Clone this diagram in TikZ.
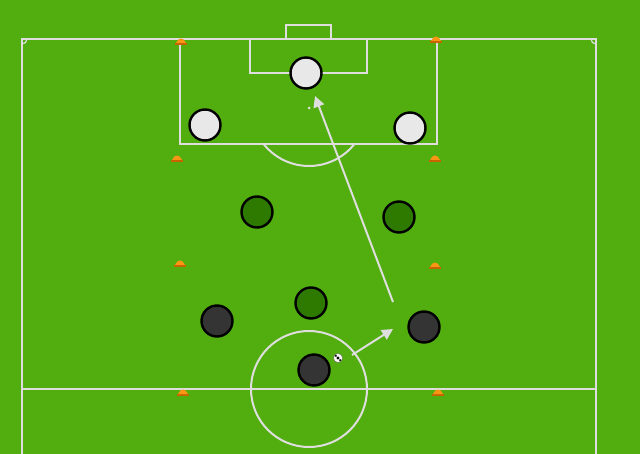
\documentclass[tikz,border=0pt]{standalone}
\usetikzlibrary{arrows.meta}
\definecolor{pitch}{RGB}{82,174,14}
\definecolor{chalk}{RGB}{222,222,222}
\definecolor{shirtwhite}{RGB}{232,232,232}
\definecolor{shirtgreen}{RGB}{46,122,0}
\definecolor{shirtdark}{RGB}{52,52,52}
\definecolor{conetop}{RGB}{250,150,20}
\definecolor{conebase}{RGB}{200,100,0}
\tikzset {
  % field markings
  line/.style = {
    draw = chalk,
    line width = 2pt
  },
  thinline/.style = {
    draw = chalk,
    line width = 1.2pt
  },
  % pass or run
  pass/.style = {
    draw = chalk,
    line width = 2pt,
    -{Triangle[length=11pt,width=11pt]}
  }
}
\tikzset {
  player/.style = {
    draw = black,
    circle,
    line width = 2.4pt,
    minimum size = 31pt,
    inner sep = 0
  },
  % team in white
  home/.style = {
    player,
    fill = shirtwhite
  },
  % green team
  mid/.style = {
    player,
    fill = shirtgreen
  },
  % dark team
  away/.style = {
    player,
    fill = shirtdark
  },
  % training cone
  cone/.pic = {
    \fill[conebase] (-6,0) rectangle (6,-2);
    \fill[conetop] (-5,-2) .. controls (-2.5,-8) and (2.5,-8) .. (5,-2) -- cycle;
  }
}

\begin{document}
\begin{tikzpicture}[x=1pt,y=-1pt]
    \fill[pitch] (0,0) rectangle (640,454);
    \useasboundingbox (0,0) rectangle (640,454);

    % pitch lines
    \draw[line] (22,454) -- (22,39) -- (596,39) -- (596,454);
    \draw[line] (22,389) -- (596,389);
    \draw[line] (180,39) -- (180,144) -- (437,144) -- (437,39);
    \draw[line] (250,39) -- (250,73) -- (367,73) -- (367,39);
    \draw[thinline] (286,39) -- (286,25) -- (331,25) -- (331,39);
    \draw[line] (309,389) circle (58);
    \fill[chalk] (309,108) circle (1.5);
    \begin{scope}
      \clip (150,144) rectangle (470,220);
      \draw[line] (309,108) circle (58);
    \end{scope}
    \begin{scope}
      \clip (22,39) rectangle (596,454);
      \draw[thinline] (22,39) circle (5);
      \draw[thinline] (596,39) circle (5);
    \end{scope}

    % cones
    \foreach \cx/\cy in {181/45, 436/43, 177/162, 435/162,
                         180/267, 435/269, 183/396, 438/396}
      \pic at (\cx,\cy) {cone};

    % players
    \node[home] (keeper) at (306,73) {};
    \node[home] (home-left) at (205,125) {};
    \node[home] (home-right) at (410,128) {};
    \node[mid] (mid-left) at (257,212) {};
    \node[mid] (mid-right) at (399,217) {};
    \node[mid] (mid-centre) at (311,303) {};
    \node[away] (away-left) at (217,321) {};
    \node[away] (away-right) at (424,327) {};
    \node[away] (away-centre) at (314,370) {};

    % ball
    \node[draw=black!60, fill=white, circle, line width=0.4pt,
          minimum size=9pt, inner sep=0] (ball) at (338,358) {};
    \fill[black] (ball.center) circle (1.6);
    \fill[black] (ball.north west) ++(1.2,1.2) circle (1.1);
    \fill[black] (ball.south east) ++(-1.2,-1.2) circle (1.1);

    % runs
    \coordinate (run-start) at (393,302);
    \coordinate (run-end) at (315,96);
    \coordinate (pass-start) at (352,355);
    \coordinate (pass-end) at (393,329);
    \draw[pass] (run-start) -- (run-end);
    \draw[pass] (pass-start) -- (pass-end);
  \end{tikzpicture}
\end{document}
